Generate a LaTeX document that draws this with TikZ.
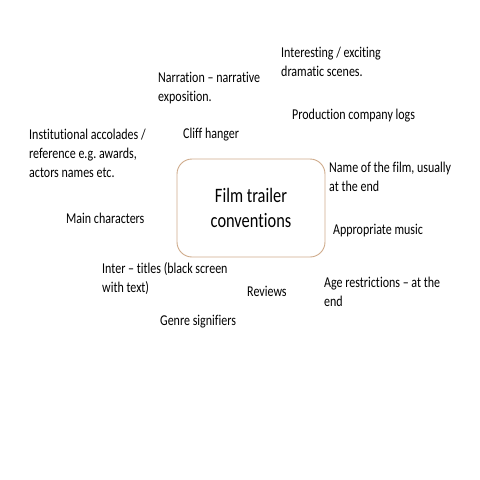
\documentclass[tikz,border=0pt]{standalone}
\usepackage{fontspec}
\setmainfont[FakeStretch=0.8,Ligatures=NoCommon]{Carlito}
\frenchspacing
\definecolor{boxline}{RGB}{206,170,138}

\begin{document}
\begin{tikzpicture}[x=1pt,y=-1pt, label/.style={anchor=base west, align=left, inner sep=0pt, font=\fontsize{15}{19.2}\selectfont}, centrebox/.style={draw=boxline, line width=0.9pt, rounded corners=15pt, minimum width=148pt, minimum height=98pt, align=center, font=\fontsize{20.5}{24.7}\selectfont}]
\useasboundingbox (0,0) rectangle (480,480);
\node[centrebox] (trailer) at (251,208) {Film trailer\\conventions};
\node[label] (exciting) at (281,76.5) {Interesting / exciting\\dramatic scenes.};
\node[label] (narration) at (158,101.5) {Narration -- narrative\\exposition.};
\node[label] (logos) at (292,119.3) {Production company logs};
\node[label] (accolades) at (29,177.4) {Institutional accolades /\\reference e.g. awards,\\actors names etc.};
\node[label] (cliff) at (183,138.3) {Cliff hanger};
\node[label] (filmname) at (329,191.2) {Name of the film, usually\\at the end};
\node[label] (characters) at (66,223.3) {Main characters};
\node[label] (music) at (333,234) {Appropriate music};
\node[label] (intertitles) at (102,292.5) {Inter -- titles (black screen\\with text)};
\node[label] (reviews) at (247,296.7) {Reviews};
\node[label] (age) at (324,306.7) {Age restrictions -- at the\\end};
\node[label] (genre) at (160,325.7) {Genre signifiers};
\end{tikzpicture}
\end{document}
